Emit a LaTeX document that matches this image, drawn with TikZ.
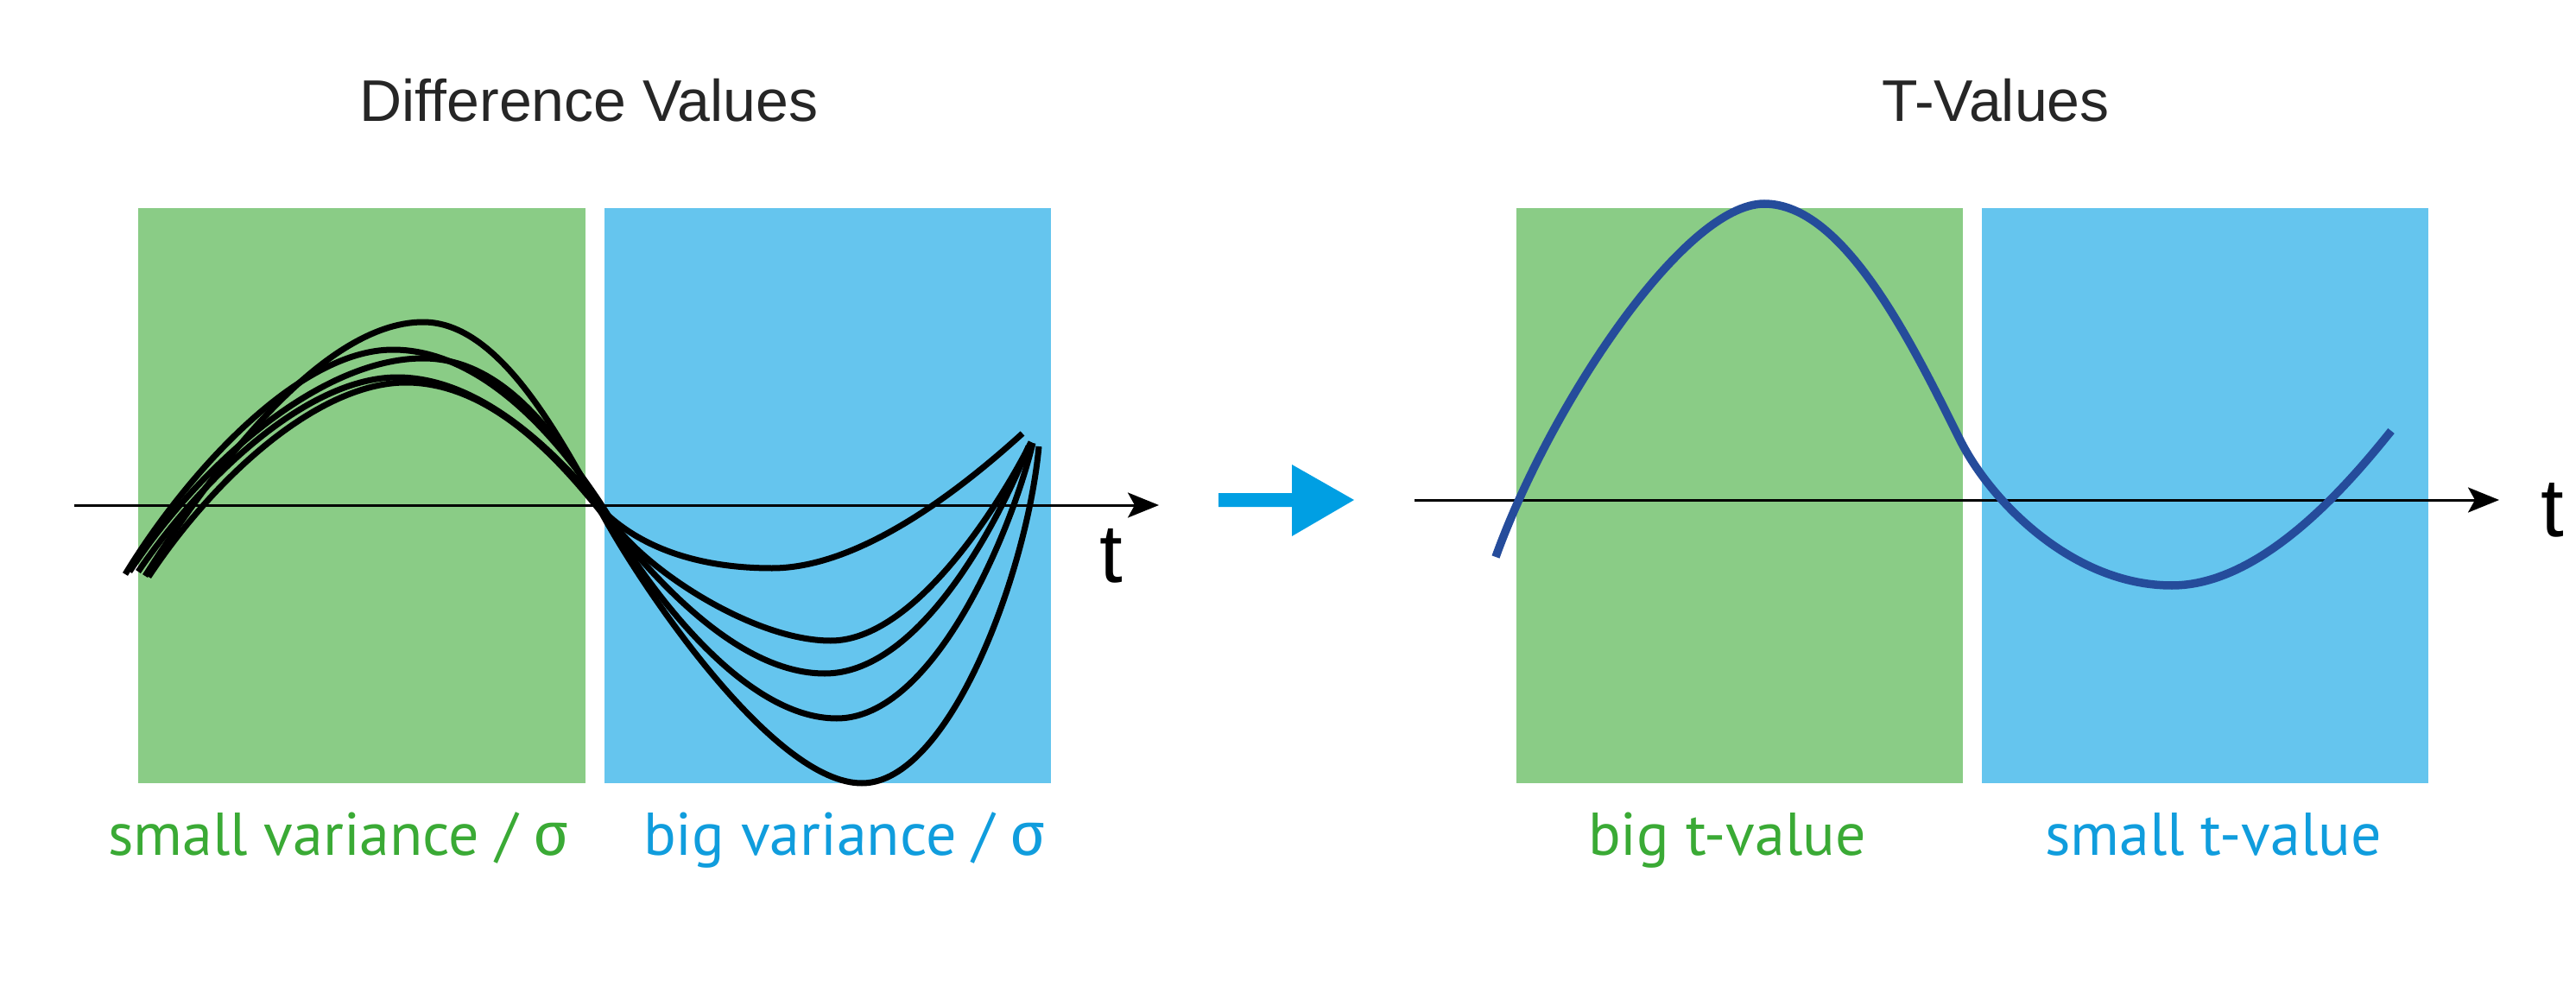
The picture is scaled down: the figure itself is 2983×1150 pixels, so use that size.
\documentclass[tikz,border=0pt]{standalone}
\usepackage{fontspec}
\setmainfont{Liberation Sans}
\newfontfamily\labfont{PT Sans}
\newfontfamily\grkfont{Fira Sans}
\usetikzlibrary{arrows.meta}
\definecolor{rgreen}{HTML}{8ACC86}
\definecolor{rblue}{HTML}{65C5EE}
\definecolor{tgreen}{HTML}{3AAA35}
\definecolor{tblue}{HTML}{109DDD}
\definecolor{arrblue}{HTML}{009FE3}
\definecolor{curveblue}{HTML}{254C9B}
\begin{document}
\begin{tikzpicture}[x=1pt,y=-1pt,
  ttl/.style={font=\fontsize{68}{80}\selectfont, text=black!85, anchor=base, inner sep=0},
  lab/.style={font=\labfont\fontsize{70}{82}\selectfont, anchor=base, inner sep=0},
  tlab/.style={font=\fontsize{96}{110}\selectfont, anchor=base, inner sep=0},
  axisline/.style={line width=3pt, -{Stealth[length=36pt,width=29pt,inset=8pt]}},
  diffcurve/.style={line width=7pt, black, line join=round},
  tcurve/.style={line width=9.5pt, curveblue},
]
\useasboundingbox (0,0) rectangle (2983,1150);

% panels
\fill[rgreen] (160,241) rectangle (678,907);
\fill[rblue] (700,241) rectangle (1217,907);
\fill[rgreen] (1756,241) rectangle (2273,907);
\fill[rblue] (2295,241) rectangle (2812,907);

% titles
\node[ttl] (t1) at (682,141) {Difference Values};
\node[ttl] (t2) at (2311,141) {T-Values};

% left axis
\coordinate (la0) at (86,585);
\coordinate (la1) at (1342,585);
\draw[axisline] (la0) -- (la1);
\node[tlab] (lt) at (1287,674) {t};

% difference curves
\draw[diffcurve] (168,667) .. controls (238,557) and (370,373) .. (490,373)
  .. controls (580,373) and (650,510) .. (700,600)
  .. controls (750,690) and (898,907) .. (998,907)
  .. controls (1100,907) and (1190,660) .. (1203,517);
\draw[diffcurve] (145,665) .. controls (215,550) and (345,405) .. (455,405)
  .. controls (560,405) and (650,510) .. (705,598)
  .. controls (740,655) and (870,742) .. (962,742)
  .. controls (1060,742) and (1160,580) .. (1194,512);
\draw[diffcurve] (150,662) .. controls (230,540) and (370,415) .. (490,415)
  .. controls (590,415) and (655,520) .. (700,595)
  .. controls (750,680) and (860,832) .. (969,832)
  .. controls (1080,832) and (1170,620) .. (1196,513);
\draw[diffcurve] (160,662) .. controls (240,545) and (360,437) .. (460,437)
  .. controls (560,437) and (650,530) .. (702,595)
  .. controls (745,635) and (810,658) .. (894,658)
  .. controls (1000,658) and (1120,560) .. (1184,502);
\draw[diffcurve] (172,668) .. controls (250,550) and (370,443) .. (470,443)
  .. controls (570,443) and (650,535) .. (700,598)
  .. controls (750,660) and (850,780) .. (955,780)
  .. controls (1060,780) and (1150,620) .. (1191,517);

% labels left
\node[lab, text=tgreen] (l1) at (392,990) {small variance / {\grkfont σ}};
\node[lab, text=tblue] (l2) at (978,990) {big variance / {\grkfont σ}};

% big arrow
\fill[arrblue] (1411,571) -- (1496,571) -- (1496,538) -- (1568,579) -- (1496,621) -- (1496,587) -- (1411,587) -- cycle;

% right axis
\coordinate (ra0) at (1638,579);
\coordinate (ra1) at (2894,579);
\draw[axisline] (ra0) -- (ra1);
\node[tlab] (rt) at (2956,621) {t};

% t-value curve
\draw[tcurve] (1732,645) .. controls (1795,470) and (1950,236) .. (2043,236)
  .. controls (2136,236) and (2215,400) .. (2270,510)
  .. controls (2305,580) and (2400,678) .. (2515,678)
  .. controls (2620,678) and (2720,560) .. (2769,499);

% labels right
\node[lab, text=tgreen] (l3) at (2000,990) {big t-value};
\node[lab, text=tblue] (l4) at (2563,990) {small t-value};
\end{tikzpicture}
\end{document}
